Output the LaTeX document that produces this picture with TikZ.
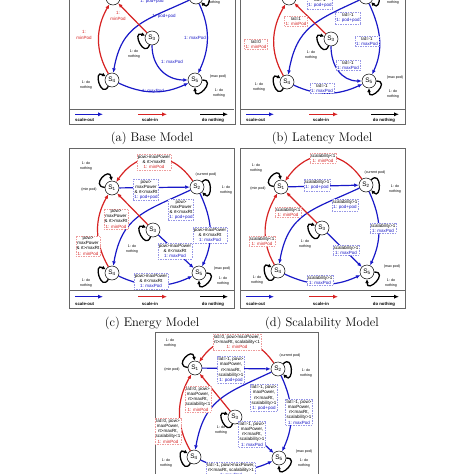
\documentclass[tikz,border=0pt]{standalone}
\usepackage{fontspec}
\setsansfont{Liberation Sans}
\usetikzlibrary{arrows.meta}
\definecolor{outblue}{RGB}{25,25,200}
\definecolor{inred}{RGB}{215,35,35}
\newcommand{\outact}[1]{\textcolor{outblue}{#1}}
\newcommand{\inact}[1]{\textcolor{inred}{#1}}
% edges shared by all five models (s3 -> s5 is drawn per model)
\newcommand{\machineedges}{%
\draw[scalein] (s2) to[out=125,in=55,looseness=1.3] (s1);
\draw[scaleout] (s1) -- (s2);
\draw[scaleout] (s2) to[out=205,in=80,looseness=1.2] (s4);
\draw[scalein] (s3) -- (s1);
\draw[scalein] (s4) to[out=120,in=240] (s1);
\draw[scaleout] (s2) to[out=-65,in=65] (s5);
\draw[scaleout] (s4) to[out=-25,in=205] (s5);
\draw[donothing] (s1) to[out=175,in=95] (s1);
\draw[donothing] (s2) to[out=45,in=-45] (s2);
\draw[donothing] (s3) to[out=250,in=160] (s3);
\draw[donothing] (s4) to[out=240,in=150] (s4);
\draw[donothing] (s5) to[out=0,in=-90] (s5);
}
% #1 left x, #2 separator y, #3 arrow y, #4 text y
\newcommand{\legendbar}[4]{%
\coordinate (sepl) at (#1,-#2);
\coordinate (sepr) at ({#1+165},-#2);
\draw[frame] (sepl) -- (sepr);
\coordinate (lo1) at ({#1+6},-#3);
\coordinate (lo2) at ({#1+34},-#3);
\coordinate (li1) at ({#1+69},-#3);
\coordinate (li2) at ({#1+98},-#3);
\coordinate (ln1) at ({#1+131},-#3);
\coordinate (ln2) at ({#1+159},-#3);
\draw[scaleout,legendarrow] (lo1) -- (lo2);
\draw[scalein,legendarrow] (li1) -- (li2);
\draw[black,legendarrow] (ln1) -- (ln2);
\node[legendtext,anchor=west] (lot) at ({#1+6},-#4) {scale-out};
\node[legendtext] (lit) at ({#1+81},-#4) {scale-in};
\node[legendtext] (lnt) at ({#1+144},-#4) {do nothing};
}
\begin{document}
\begin{tikzpicture}[x=1pt,y=1pt,
  state/.style={circle,draw=black,line width=0.5pt,fill=white,minimum size=14pt,inner sep=0pt,font=\sffamily\fontsize{6.5}{7}\selectfont},
  scaleout/.style={draw=outblue,line width=1.2pt,-{Latex[length=4.5pt,width=3.8pt]}},
  scalein/.style={draw=inred,line width=1.2pt,-{Latex[length=4.5pt,width=3.8pt]}},
  donothing/.style={draw=black,line width=1.3pt,min distance=15pt,looseness=1,-{Latex[length=3.8pt,width=3.8pt]}},
  legendarrow/.style={line width=1.3pt,-{Latex[length=5pt,width=4.2pt]}},
  cond/.style={font=\sffamily\fontsize{4.5}{5.2}\selectfont,align=center,inner sep=1pt,fill=white},
  outbox/.style={cond,draw=outblue!45,dash pattern=on 1.5pt off 1pt,line width=0.35pt},
  inbox/.style={cond,draw=inred!45,dash pattern=on 1.5pt off 1pt,line width=0.35pt},
  plain/.style={font=\sffamily\fontsize{4.5}{5.2}\selectfont,align=center,inner sep=0.5pt},
  note/.style={font=\sffamily\fontsize{3.6}{4.3}\selectfont,align=center,inner sep=0.5pt},
  frame/.style={draw=black!60,line width=0.6pt},
  legendtext/.style={font=\sffamily\bfseries\fontsize{4.3}{5}\selectfont,inner sep=0pt},
  caption/.style={font=\fontsize{12.5}{14}\selectfont}]
\fill[white] (0,0) rectangle (474,-474);
\useasboundingbox (0,0) rectangle (474,-474);

%% (a) base model
\draw[frame] (69,45) rectangle (235,-124);
\node[state] (s1) at (113,2) {S\textsubscript{1}};
\node[state] (s2) at (196,3) {S\textsubscript{2}};
\node[state] (s3) at (152,-38) {S\textsubscript{3}};
\node[state] (s4) at (112,-80) {S\textsubscript{4}};
\node[state] (s5) at (195,-80) {S\textsubscript{5}};
\machineedges
\draw[scaleout] (s3) to[out=-90,in=180,looseness=1.1] (s5);
\node[plain,text=outblue] (a12) at (152,-1.5) {1: pod+pod};
\node[plain,text=outblue] (a24) at (164,-16) {1: pod+pod};
\node[plain,text=inred] (a31) at (118,-16) {1:\\minPod};
\node[plain,text=inred] (a41) at (84,-35) {1:\\minPod};
\node[plain,text=outblue] (a25) at (195,-38) {1: maxPod};
\node[plain,text=outblue] (a35) at (172,-62) {1: maxPod};
\node[plain,text=outblue] (a45) at (153,-91) {1: maxPod};
\node[note] (an2) at (214,0) {1: do\\nothing};
\node[note] (an3) at (134,-54) {1: do\\nothing};
\node[note] (an4) at (86,-85) {1: do\\nothing};
\node[note] (an5) at (219,-93) {1: do\\nothing};
\node[note] (amax) at (218,-77) {(max pod)};
\legendbar{69}{109.3}{114.3}{120}
\node[caption] (capa) at (152,-138) {(a) Base Model};

%% (b) latency model
\draw[frame] (240,45) rectangle (405,-124);
\node[state] (s1) at (289,2) {S\textsubscript{1}};
\node[state] (s2) at (366,3) {S\textsubscript{2}};
\node[state] (s3) at (331,-39) {S\textsubscript{3}};
\node[state] (s4) at (287,-82) {S\textsubscript{4}};
\node[state] (s5) at (369,-81) {S\textsubscript{5}};
\machineedges
\draw[scaleout] (s3) to[out=-90,in=180,looseness=1.1] (s5);
\node[outbox] (b12) at (320,-3) {lat=-1\\\outact{1: pod+pod}};
\node[inbox] (b31) at (296,-21) {lat=1\\\inact{1: minPod}};
\node[outbox] (b24) at (348,-18) {lat=-1\\\outact{1: pod+pod}};
\node[inbox] (b41) at (256,-44) {lat=0\\\inact{1: minPod}};
\node[outbox] (b25) at (367,-41) {lat=-1\\\outact{1: maxPod}};
\node[outbox] (b35) at (348,-65) {lat=-1\\\outact{1: maxPod}};
\node[outbox] (b45) at (322,-88) {lat=-1\\\outact{1: maxPod}};
\node[note] (bn2) at (393,0) {1: do\\nothing};
\node[note] (bn3) at (311,-55) {1: do\\nothing};
\node[note] (bn4) at (259,-87) {1: do\\nothing};
\node[note] (bn5) at (393,-94) {1: do\\nothing};
\node[note] (bmax) at (395,-78) {(max pod)};
\legendbar{240}{109.3}{114.3}{120}
\node[caption] (capb) at (322,-138) {(b) Latency Model};

%% (c) energy model
\draw[frame] (69,-148) rectangle (234,-308);
\node[state] (s1) at (112,-188) {S\textsubscript{1}};
\node[state] (s2) at (197,-187) {S\textsubscript{2}};
\node[state] (s3) at (153,-230) {S\textsubscript{3}};
\node[state] (s4) at (112,-273) {S\textsubscript{4}};
\node[state] (s5) at (199,-273) {S\textsubscript{5}};
\machineedges
\draw[scaleout] (s3) -- (s5);
\node[inbox] (c21) at (154,-162) {pow>maxPower\\\& rt>maxRt\\\inact{1: minPod}};
\node[outbox] (c12) at (146,-190) {pow>\\maxPower\\\& rt<maxRt\\\outact{1: pod+pod}};
\node[outbox] (c24) at (181,-210) {pow>\\maxPower\\\& rt<maxRt\\\outact{1: pod+pod}};
\node[inbox] (c31) at (116,-219) {pow>\\maxPower\\\& rt>maxRt\\\inact{1: minPod}};
\node[inbox] (c41) at (88,-246) {pow>\\maxPower\\\& rt>maxRt\\\inact{1: minPod}};
\node[outbox] (c25) at (210,-235) {pow>maxPower\\\& rt<maxRt\\\outact{1: maxPod}};
\node[outbox] (c35) at (175,-251) {pow>maxPower\\\& rt<maxRt\\\outact{1: maxPod}};
\node[outbox] (c45) at (151,-281) {pow>maxPower\\\& rt<maxRt\\\outact{1: maxPod}};
\node[note] (cn1) at (86,-166) {1: do\\nothing};
\node[note] (cn2) at (226,-190) {1: do\\nothing};
\node[note] (cn3) at (132,-249) {1: do\\nothing};
\node[note] (cn4) at (86,-283) {1: do\\nothing};
\node[note] (cn5) at (223,-281) {1: do\\nothing};
\node[note] (cmin) at (89,-190) {(min pod)};
\node[note] (ccur) at (206,-175) {(current pod)};
\node[note] (cmax) at (222,-269) {(max pod)};
\legendbar{69}{290}{296.7}{304.3}
\node[caption] (capc) at (152,-323) {(c) Energy Model};

%% (d) scalability model
\draw[frame] (240,-148) rectangle (405,-308);
\node[state] (s1) at (281,-187) {S\textsubscript{1}};
\node[state] (s2) at (366,-185) {S\textsubscript{2}};
\node[state] (s3) at (322,-228) {S\textsubscript{3}};
\node[state] (s4) at (278,-271) {S\textsubscript{4}};
\node[state] (s5) at (367,-272) {S\textsubscript{5}};
\machineedges
\draw[scaleout] (s3) -- (s5);
\node[inbox] (d21) at (323,-158) {scalability<1\\\inact{1: minPod}};
\node[outbox] (d12) at (317,-185) {scalability>1\\\outact{1: pod+pod}};
\node[outbox] (d24) at (345,-205) {scalability>1\\\outact{1: pod+pod}};
\node[inbox] (d31) at (288,-212) {scalability<1\\\inact{1: minPod}};
\node[inbox] (d41) at (262,-241) {scalability<1\\\inact{1: minPod}};
\node[outbox] (d25) at (383,-228) {scalability>1\\\outact{1: maxPod}};
\node[outbox] (d35) at (346,-250) {scalability>1\\\outact{1: maxPod}};
\node[outbox] (d45) at (320,-280) {scalability>1\\\outact{1: maxPod}};
\node[note] (dn1) at (256,-168) {1: do\\nothing};
\node[note] (dn2) at (395,-189) {1: do\\nothing};
\node[note] (dn3) at (305,-244) {1: do\\nothing};
\node[note] (dn4) at (257,-280) {1: do\\nothing};
\node[note] (dn5) at (391,-283) {1: do\\nothing};
\node[note] (dmin) at (258,-189) {(min pod)};
\node[note] (dcur) at (375,-173) {(current pod)};
\node[note] (dmax) at (392,-267) {(max pod)};
\legendbar{240}{290}{296.7}{304.3}
\node[caption] (capd) at (322,-323) {(d) Scalability Model};

%% (e) all metrics
\draw[frame] (155,-332) rectangle (318,-520);
\node[state] (s1) at (195,-368) {S\textsubscript{1}};
\node[state] (s2) at (278,-369) {S\textsubscript{2}};
\node[state] (s3) at (235,-417) {S\textsubscript{3}};
\node[state] (s4) at (194,-457) {S\textsubscript{4}};
\node[state] (s5) at (279,-458) {S\textsubscript{5}};
\machineedges
\draw[scaleout] (s3) -- (s5);
\node[inbox] (e21) at (237,-342) {lat=0, pow>maxPower,\\rt>maxRt, scalability<1\\\inact{1: minPod}};
\node[outbox] (e12) at (231,-370) {lat=-1, pow>\\maxPower,\\rt<maxRt,\\scalability>1\\\outact{1: pod+pod}};
\node[inbox] (e31) at (198,-399) {lat=0, pow>\\maxPower,\\rt>maxRt,\\scalability<1\\\inact{1: minPod}};
\node[outbox] (e24) at (264,-398) {lat=-1, pow>\\maxPower,\\rt<maxRt,\\scalability>1\\\outact{1: pod+pod}};
\node[outbox] (e25) at (299,-412) {lat=-1, pow>\\maxPower,\\rt<maxRt,\\scalability>1\\\outact{1: maxPod}};
\node[outbox] (e35) at (252,-434) {lat=-1, pow>\\maxPower,\\rt<maxRt,\\scalability>1\\\outact{1: maxPod}};
\node[inbox] (e41) at (168,-431) {lat=0, pow>\\maxPower,\\rt>maxRt,\\scalability<1\\\inact{1: minPod}};
\node[outbox] (e45) at (231,-470) {lat=-1, pow>maxPower,\\rt<maxRt, scalability>1\\\outact{1: maxPod}};
\node[note] (en1) at (170,-343) {1: do\\nothing};
\node[note] (en2) at (306,-373) {1: do\\nothing};
\node[note] (en3) at (221,-430) {1: do\\nothing};
\node[note] (en4) at (166,-463) {1: do\\nothing};
\node[note] (en5) at (304,-463) {1: do\\nothing};
\node[note] (emin) at (172,-370) {(min pod)};
\node[note] (ecur) at (290,-356) {(current pod)};
\node[note] (emax) at (304,-452) {(max pod)};
\end{tikzpicture}
\end{document}
